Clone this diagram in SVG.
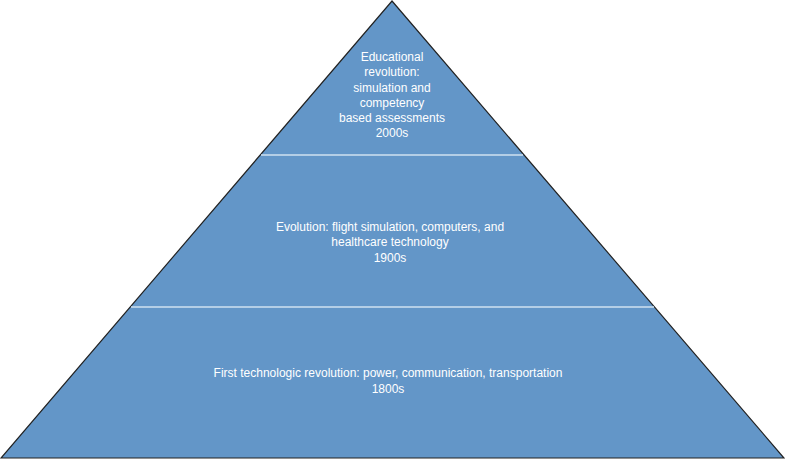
<svg xmlns="http://www.w3.org/2000/svg" width="785" height="459" viewBox="0 0 785 459">
<style>
.t{font-family:"Liberation Sans",Arial,sans-serif;font-size:12px;fill:#fff;text-anchor:middle}
.d{stroke:#cfe0f0;stroke-width:1.3}
</style>
<rect width="785" height="459" fill="#fff"/>
<g id="pyramid">
<polygon points="392,1 784,458 1,458" fill="#6396c8" stroke="#222" stroke-width="1.2"/>
</g>
<g id="connectors">
<line class="d" x1="261" y1="155" x2="523" y2="155"/>
<line class="d" x1="131" y1="307" x2="654" y2="307"/>
</g>
<g id="top">
<text class="t" x="392" y="61">Educational</text>
<text class="t" x="392" y="76">revolution:</text>
<text class="t" x="392" y="92">simulation and</text>
<text class="t" x="392" y="107">competency</text>
<text class="t" x="392" y="122">based assessments</text>
<text class="t" x="392" y="137">2000s</text>
</g>
<g id="middle">
<text class="t" x="390" y="231">Evolution: flight simulation, computers, and</text>
<text class="t" x="390" y="246">healthcare technology</text>
<text class="t" x="390" y="262">1900s</text>
</g>
<g id="bottom">
<text class="t" x="388" y="377">First technologic revolution: power, communication, transportation</text>
<text class="t" x="388" y="393">1800s</text>
</g>
</svg>
